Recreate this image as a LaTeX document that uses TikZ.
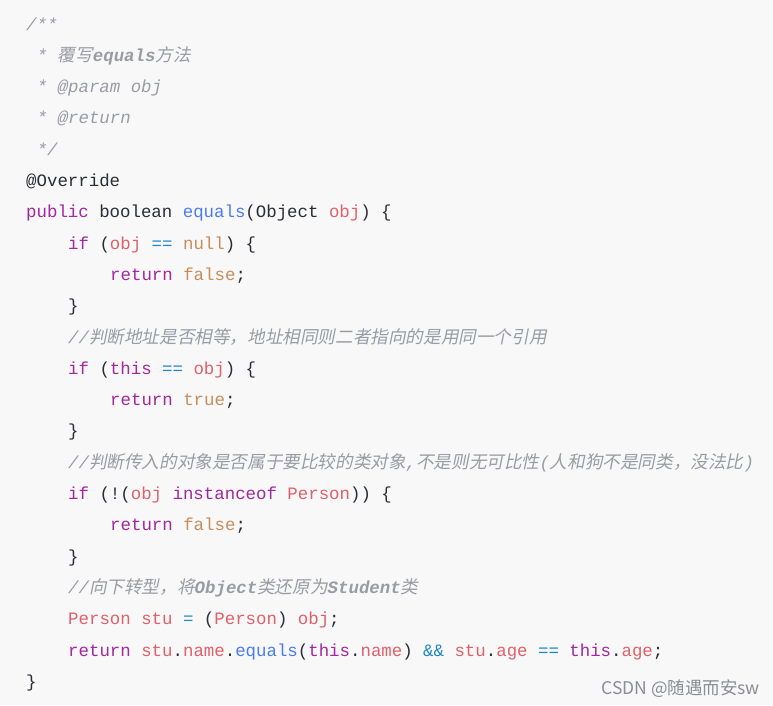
\documentclass[tikz,border=0pt]{standalone}
\usepackage{fontspec}
\setmonofont{Liberation Mono}
\newfontfamily\cjk{Noto Sans CJK SC}
\newfontfamily\cjksl[FakeSlant=0.2]{Noto Sans CJK SC}
\definecolor{bg}{HTML}{F8F8F9}
\definecolor{kwc}{HTML}{A3279E}
\definecolor{fnc}{HTML}{4A7CF0}
\definecolor{vrc}{HTML}{E0606A}
\definecolor{litc}{HTML}{C98D5B}
\definecolor{opc}{HTML}{1E86C4}
\definecolor{cmc}{HTML}{9A9CA3}
\definecolor{txc}{HTML}{2B2D35}
\newcommand\kw[1]{\textcolor{kwc}{#1}}
\newcommand\fn[1]{\textcolor{fnc}{#1}}
\newcommand\vr[1]{\textcolor{vrc}{#1}}
\newcommand\lit[1]{\textcolor{litc}{#1}}
\newcommand\op[1]{\textcolor{opc}{#1}}
\newcommand\zh[1]{{\cjksl\fontsize{17.6}{17.6}\selectfont #1}}
\begin{document}
\begin{tikzpicture}[x=1pt,y=1pt,
  code/.style={anchor=base west,inner sep=0pt,font=\ttfamily\fontsize{17.4}{17.4}\selectfont,text=txc},
  cmt/.style={code,font=\ttfamily\itshape\fontsize{17.4}{17.4}\selectfont,text=cmc}]
\fill[bg] (0,0) rectangle (773,-705);
\useasboundingbox (0,0) rectangle (773,-705);
\def\L#1{-24-31.3*#1-6}
\node[cmt] (l0) at (26,{\L{0}}) {/**};
\node[cmt] (l1) at (36.6,{\L{1}}) {* \zh{覆写}\textbf{equals}\zh{方法}};
\node[cmt] (l2) at (36.6,{\L{2}}) {* @param obj};
\node[cmt] (l3) at (36.6,{\L{3}}) {* @return};
\node[cmt] (l4) at (36.6,{\L{4}}) {*/};
\node[code] (l5) at (26,{\L{5}}) {@Override};
\node[code] (l6) at (26,{\L{6}}) {\kw{public} boolean \fn{equals}(Object \vr{obj}) \{};
\node[code] (l7) at (68,{\L{7}}) {\kw{if} (\vr{obj} \op{==} \lit{null}) \{};
\node[code] (l8) at (110,{\L{8}}) {\kw{return} \lit{false};};
\node[code] (l9) at (68,{\L{9}}) {\}};
\node[cmt] (l10) at (68,{\L{10}}) {//\zh{判断地址是否相等，地址相同则二者指向的是用同一个引用}};
\node[code] (l11) at (68,{\L{11}}) {\kw{if} (\kw{this} \op{==} \vr{obj}) \{};
\node[code] (l12) at (110,{\L{12}}) {\kw{return} \lit{true};};
\node[code] (l13) at (68,{\L{13}}) {\}};
\node[cmt] (l14) at (68,{\L{14}}) {//\zh{判断传入的对象是否属于要比较的类对象}{,}\zh{不是则无可比性}(\zh{人和狗不是同类，没法比})};
\node[code] (l15) at (68,{\L{15}}) {\kw{if} (!(\vr{obj} \kw{instanceof} \vr{Person})) \{};
\node[code] (l16) at (110,{\L{16}}) {\kw{return} \lit{false};};
\node[code] (l17) at (68,{\L{17}}) {\}};
\node[cmt] (l18) at (68,{\L{18}}) {//\zh{向下转型，将}\textbf{Object}\zh{类还原为}\textbf{Student}\zh{类}};
\node[code] (l19) at (68,{\L{19}}) {\vr{Person stu} \op{=} (\vr{Person}) \vr{obj};};
\node[code] (l20) at (68,{\L{20}}) {\kw{return} \vr{stu}.\vr{name}.\fn{equals}(\kw{this}.\vr{name}) \op{\&\&} \vr{stu}.\vr{age} \op{==} \kw{this}.\vr{age};};
\node[code] (l21) at (26,{\L{21}}) {\}};
\node[anchor=base east,inner sep=0pt,font=\cjk\fontsize{17.5}{17.5}\selectfont,text=cmc!90!black] (wm) at (760,-694) {CSDN @随遇而安sw};
\end{tikzpicture}
\end{document}
